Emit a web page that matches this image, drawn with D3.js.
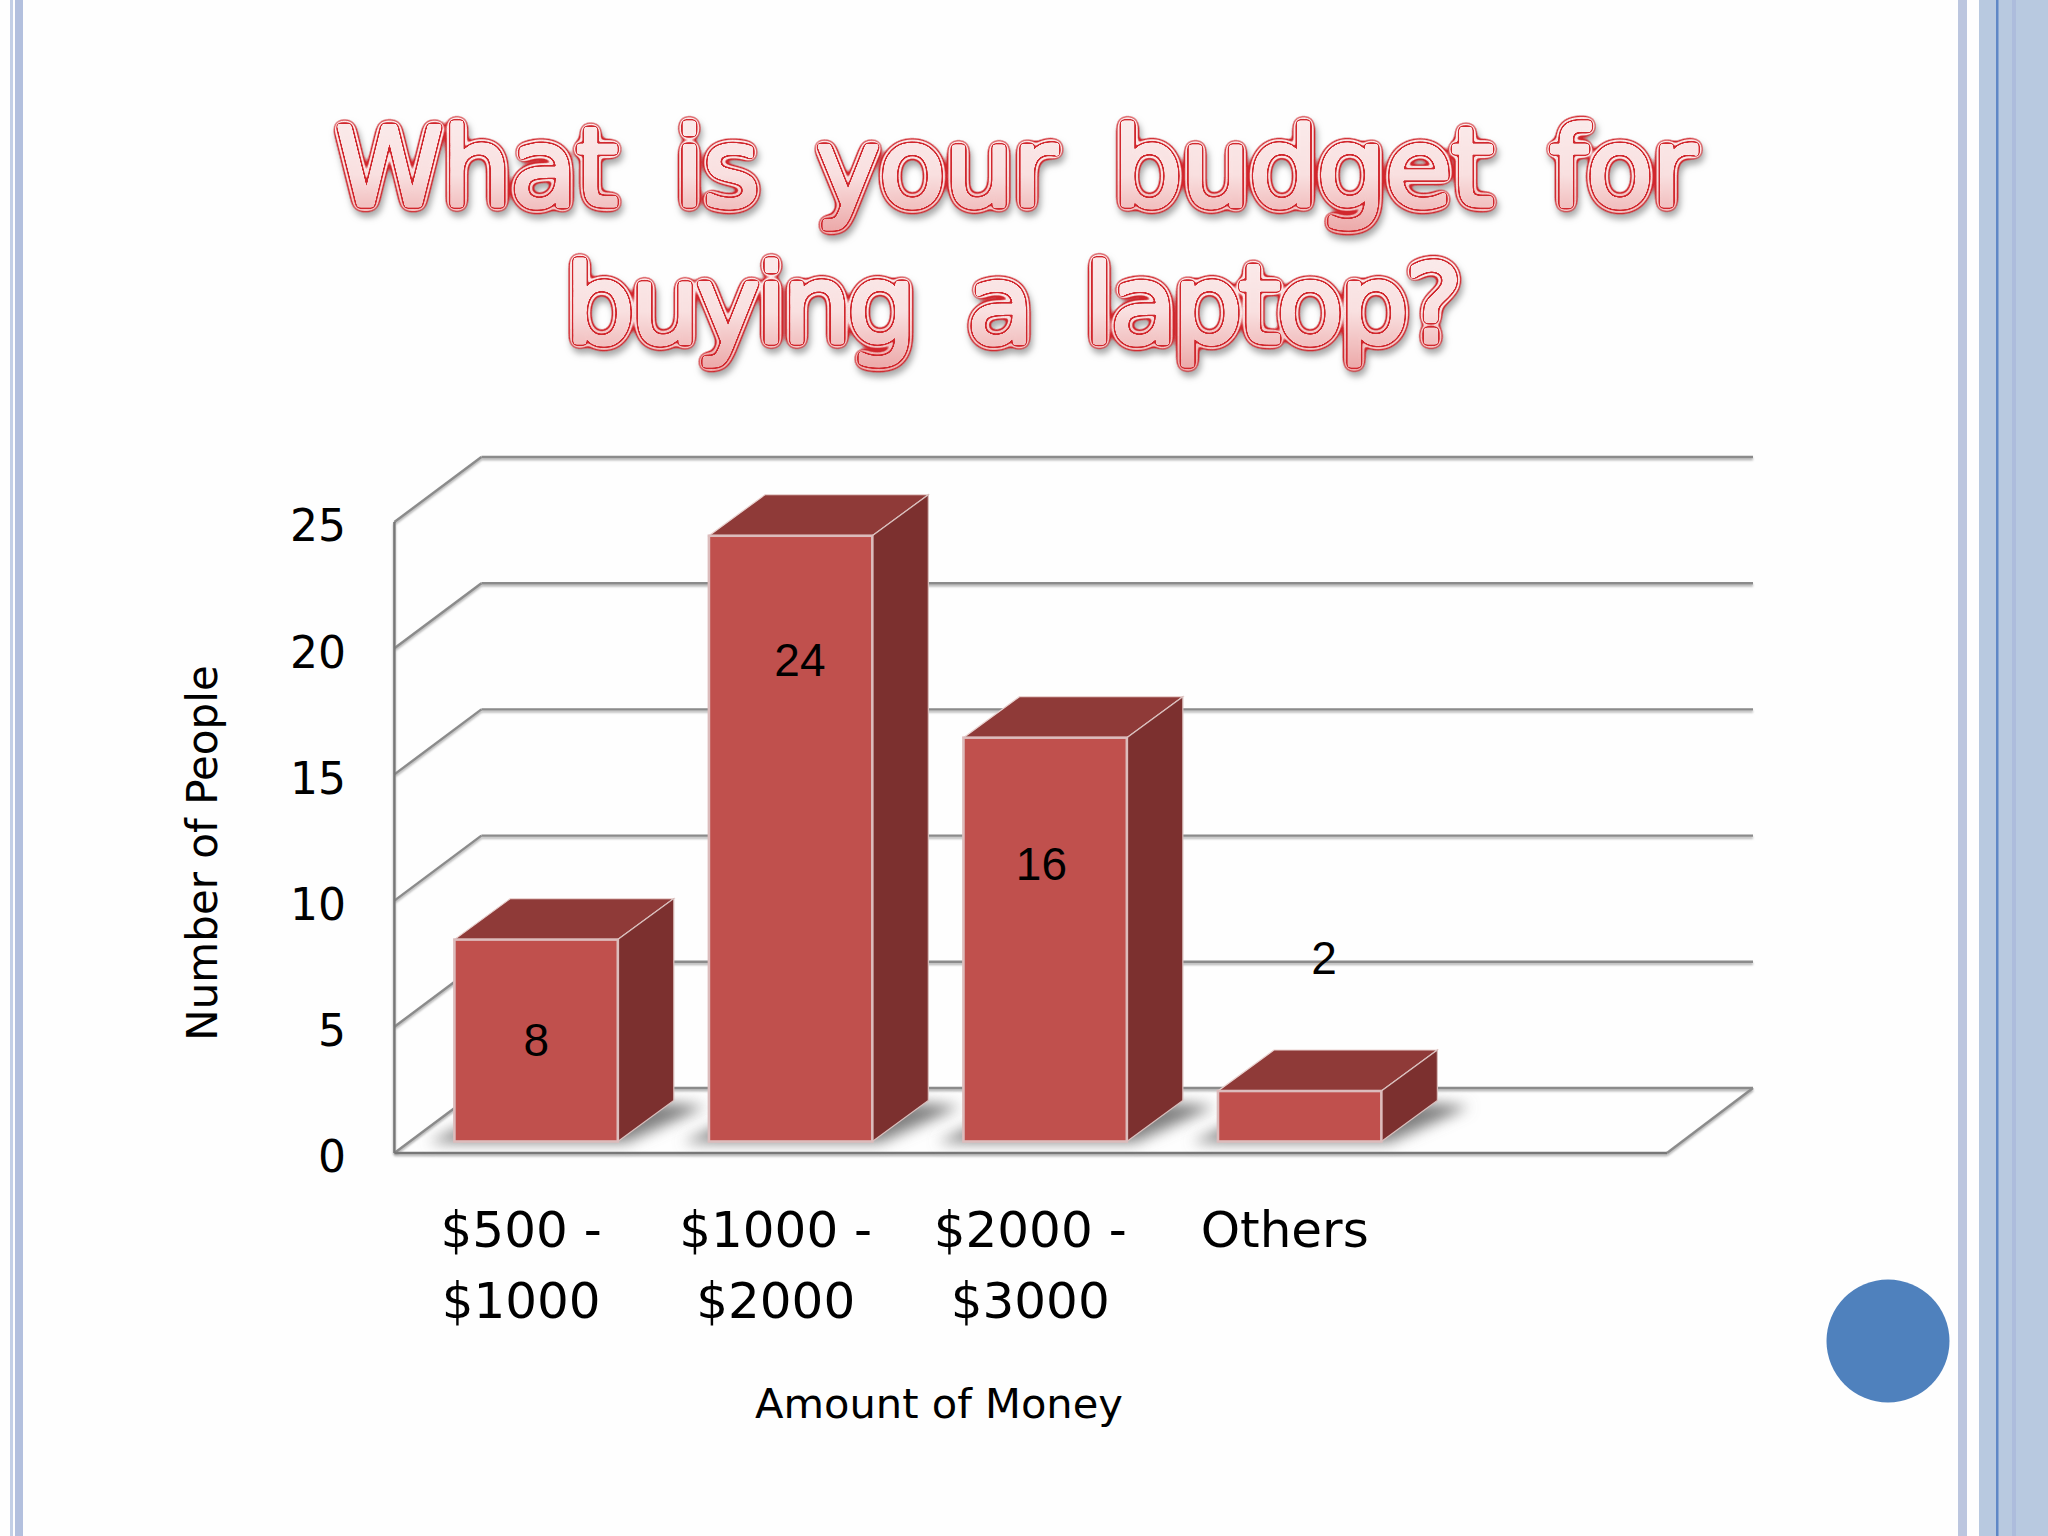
<!DOCTYPE html>
<html><head><meta charset="utf-8">
<script src="https://cdn.jsdelivr.net/npm/d3@7"></script>
<style>html,body{margin:0;padding:0;background:#fff}svg{display:block}</style>
</head><body><svg id="c" width="2048" height="1536"></svg>
<script>
const titleLines = ["What is your budget for", "buying a laptop?"];
const categories = ["$500 - $1000", "$1000 - $2000", "$2000 - $3000", "Others"];
const values = [8, 24, 16, 2];
const yTicks = [0, 5, 10, 15, 20, 25];
const yTitle = "Number of People";
const xTitle = "Amount of Money";

const COMIC = "'DejaVu Sans'";
const svg = d3.select("#c");
svg.append("rect").attr("width",2048).attr("height",1536).attr("fill","#fefefe");

/* slide decoration */
const deco = [[10,3,"#c3cfe6"],[15,8,"#b3c0de"],[1958,9,"#bcc6df"],[1979,69,"#b8c9e0"],[1996,2.5,"#5f87c6"],[2012,4,"#adbcdc"]];
svg.append("g").selectAll("rect").data(deco).join("rect")
  .attr("x",d=>d[0]).attr("y",0).attr("width",d=>d[1]).attr("height",1536).attr("fill",d=>d[2]);
svg.append("circle").attr("cx",1888).attr("cy",1341).attr("r",61.5).attr("fill","#4f81bd");

const defs = svg.append("defs");
const grad = defs.append("linearGradient").attr("id","tg").attr("x1",0).attr("y1",0).attr("x2",0).attr("y2",1);
grad.append("stop").attr("offset","0").attr("stop-color","#fbeeee");
grad.append("stop").attr("offset","0.55").attr("stop-color","#f9e0e0");
grad.append("stop").attr("offset","1").attr("stop-color","#eca8a8");

const f = defs.append("filter").attr("id","wordart").attr("filterUnits","userSpaceOnUse")
  .attr("x",250).attr("y",60).attr("width",1550).attr("height",360).attr("color-interpolation-filters","sRGB");
/* round dilation: blur then threshold the alpha */
function grow(input, r, result){
  f.append("feGaussianBlur").attr("in",input).attr("stdDeviation",r/1.44).attr("result",result+"b");
  const t = f.append("feComponentTransfer").attr("in",result+"b").attr("result",result);
  t.append("feFuncA").attr("type","linear").attr("slope",20).attr("intercept",-1);
}
function tint(color, maskName, result){
  f.append("feFlood").attr("flood-color",color);
  f.append("feComposite").attr("in2",maskName).attr("operator","in").attr("result",result);
}
grow("SourceAlpha",7,"d1");
f.append("feOffset").attr("in","d1").attr("dx",2).attr("dy",5).attr("result","so");
f.append("feGaussianBlur").attr("in","so").attr("stdDeviation",3).attr("result","sb");
f.append("feFlood").attr("flood-color","#555").attr("flood-opacity",0.5);
f.append("feComposite").attr("in2","sb").attr("operator","in").attr("result","shadow");
tint("#d1272d","d1","outer");
grow("SourceGraphic",5,"ring");
grow("SourceAlpha",3.2,"d2");
tint("#d1272d","d2","inner");
grow("SourceGraphic",1.6,"core");
const m = f.append("feMerge");
["shadow","outer","ring","inner","core"].forEach(n=>m.append("feMergeNode").attr("in",n));

const sf = defs.append("filter").attr("id","soft").attr("x","-30%").attr("y","-80%").attr("width","160%").attr("height","260%");
sf.append("feGaussianBlur").attr("stdDeviation",7);
const lf = defs.append("filter").attr("id","lineShadow").attr("filterUnits","userSpaceOnUse").attr("x",380).attr("y",440).attr("width",1390).attr("height",730);
lf.append("feDropShadow").attr("dx",0).attr("dy",2).attr("stdDeviation",1.2).attr("flood-color","#999").attr("flood-opacity",0.8);

/* title */
svg.append("g").selectAll("text").data(titleLines).join("text")
  .attr("x",(d,i)=>[1016,1014][i]).attr("y",(d,i)=>[206,343][i])
  .attr("text-anchor","middle").attr("font-family",COMIC).attr("font-size",110)
  .attr("word-spacing",24)
  .attr("textLength",(d,i)=>[1362,898][i]).attr("lengthAdjust","spacing")
  .attr("fill","url(#tg)").attr("filter","url(#wordart)").text(d=>d);

/* scales */
const bandCats = categories.concat([" "]);
const x = d3.scaleBand().domain(bandCats).range([394.4,1667]);
const y = d3.scaleLinear().domain([0,25]).range([1153,522]);
const backDx = 87, backDy = -65;
const rightX = 1753;
const barW = x.bandwidth()*0.642, barOff = 60, barBaseUp = 11.5, depthX = 56, depthY = -41;

/* walls and gridlines */
const grid = svg.append("g").attr("filter","url(#lineShadow)").attr("fill","none").attr("stroke","#8b8b8b").attr("stroke-width",2.4);
grid.selectAll("line.h").data(yTicks).join("line").attr("class","h")
  .attr("x1",x.range()[0]+backDx).attr("x2",rightX)
  .attr("y1",d=>y(d)+backDy).attr("y2",d=>y(d)+backDy);
grid.selectAll("line.d").data(yTicks).join("line").attr("class","d")
  .attr("x1",x.range()[0]).attr("x2",x.range()[0]+backDx)
  .attr("y1",d=>y(d)).attr("y2",d=>y(d)+backDy);
grid.append("line").attr("x1",x.range()[0]).attr("x2",x.range()[0]).attr("y1",y(25)).attr("y2",y(0)).attr("stroke","#777");
grid.append("line").attr("x1",x.range()[0]).attr("x2",x.range()[1]).attr("y1",y(0)).attr("y2",y(0)).attr("stroke","#777");
grid.append("line").attr("x1",x.range()[1]).attr("x2",rightX).attr("y1",y(0)).attr("y2",y(0)+backDy);

/* bars */
const barY = v => y(v)-barBaseUp;
const pts = a => a.map(p=>p.join(",")).join(" ");
const bx = c => x(c)+barOff;
const bars = svg.append("g");
const data = categories.map((c,i)=>({c,v:values[i]}));
bars.selectAll("polygon.shadow").data(data).join("polygon").attr("class","shadow")
  .attr("points",d=>{const a=bx(d.c),b=a+barW,g=barY(0);
    return pts([[a-26,g+1],[b+8,g+1],[b+depthX+32,g+depthY+6],[b+depthX,g+depthY+3],[a+depthX,g+depthY+3]]);})
  .attr("fill","#808080").attr("filter","url(#soft)");
const bg = bars.selectAll("g.bar").data(data).join("g").attr("class","bar");
bg.append("polygon").attr("points",d=>{const a=bx(d.c),b=a+barW,t=barY(d.v);
    return pts([[a,t],[b,t],[b+depthX,t+depthY],[a+depthX,t+depthY]]);})
  .attr("fill","#8f3a38").attr("stroke","#e9d2d0").attr("stroke-width",1.2);
bg.append("polygon").attr("points",d=>{const b=bx(d.c)+barW,t=barY(d.v),g=barY(0);
    return pts([[b,t],[b+depthX,t+depthY],[b+depthX,g+depthY],[b,g]]);})
  .attr("fill","#7c302f").attr("stroke","#d9c0be").attr("stroke-width",1.2);
bg.append("rect").attr("x",d=>bx(d.c)).attr("y",d=>barY(d.v)).attr("width",barW).attr("height",d=>barY(0)-barY(d.v))
  .attr("fill","#c0504d").attr("stroke","#dcbcbc").attr("stroke-width",2.6);

/* value labels */
const labelDx = [82, 91, 78, 106];
const labelY = [1039, 659, 863, 957];
svg.append("g").selectAll("text").data(data).join("text")
  .attr("x",(d,i)=>bx(d.c)+labelDx[i]).attr("y",(d,i)=>labelY[i]).attr("dy","0.36em")
  .attr("text-anchor","middle").attr("font-family","'Liberation Sans'").attr("font-size",46).attr("fill","#000")
  .text(d=>d.v);

/* y tick labels */
svg.append("g").selectAll("text").data(yTicks).join("text")
  .attr("x",346).attr("y",d=>y(d)+3.5).attr("dy","0.36em").attr("text-anchor","end")
  .attr("font-family",COMIC).attr("font-size",44).attr("fill","#000").text(d=>d);

/* category labels */
const catText = svg.append("g").selectAll("text").data(categories).join("text")
  .attr("text-anchor","middle").attr("font-family",COMIC).attr("font-size",50).attr("fill","#000");
catText.each(function(c){
  const parts = c.includes(" - ") ? [c.split(" - ")[0]+" -", c.split(" - ")[1]] : [c];
  d3.select(this).selectAll("tspan").data(parts).join("tspan")
    .attr("x",x(c)+x.bandwidth()/2-0.5).attr("y",(d,i)=>1247+i*71).text(d=>d);
});

/* axis titles */
svg.append("text").attr("transform","translate(202,853) rotate(-90)").attr("dy","0.36em")
  .attr("text-anchor","middle").attr("font-family",COMIC).attr("font-size",42).attr("fill","#000").text(yTitle);
svg.append("text").attr("x",939).attr("y",1403).attr("dy","0.36em")
  .attr("text-anchor","middle").attr("font-family",COMIC).attr("font-size",41.6).attr("fill","#000").text(xTitle);
</script></body></html>
